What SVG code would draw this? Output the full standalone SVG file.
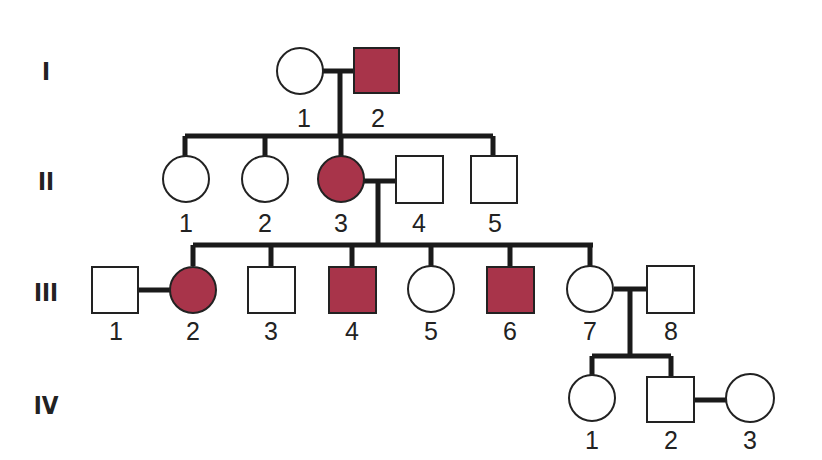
<svg xmlns="http://www.w3.org/2000/svg" width="822" height="460" viewBox="0 0 822 460">
<style>
.n{fill:#fff;stroke:#222;stroke-width:2}
.a{fill:#a8344a}
.l{stroke:#1a1a1a;stroke-width:5;fill:none}
.t{font-family:"Liberation Sans",Arial,sans-serif;font-size:25px;fill:#222;text-anchor:middle}
.g{font-family:"DejaVu Sans Condensed","Liberation Sans",sans-serif;font-weight:bold;font-size:24px;fill:#222;text-anchor:middle}
</style>
<rect width="822" height="460" fill="#fff"/>
<g id="gen-labels">
<text class="g" x="46" y="80">I</text>
<text class="g" x="46" y="190">II</text>
<text class="g" x="46" y="301">III</text>
<text class="g" x="46" y="414">IV</text>
</g>
<g id="connectors">
<path class="l" d="M323 71H354M340 71V136M185 136H493M185 136V156M265 136V156M341 136V156M493 136V156"/>
<path class="l" d="M364 181H396M378 181V245M193 245H593M193 245V266M271 245V266M352 245V266M431 245V266M510 245V266M590 245V266"/>
<path class="l" d="M138 290H170M614 289H647M630 289V356M592 356H671M592 356V375M671 356V377M694 400H726"/>
</g>
<g id="I-1"><circle class="n" cx="300" cy="71" r="23"/><text class="t" x="304" y="127">1</text></g>
<g id="I-2"><rect class="n a" x="354" y="48" width="45" height="45"/><text class="t" x="378" y="127">2</text></g>
<g id="II-1"><circle class="n" cx="186" cy="179" r="23"/><text class="t" x="186" y="232">1</text></g>
<g id="II-2"><circle class="n" cx="265" cy="179" r="23"/><text class="t" x="265" y="232">2</text></g>
<g id="II-3"><circle class="n a" cx="341" cy="179" r="23"/><text class="t" x="341" y="232">3</text></g>
<g id="II-4"><rect class="n" x="396" y="156" width="47" height="47"/><text class="t" x="419" y="232">4</text></g>
<g id="II-5"><rect class="n" x="471" y="156" width="46" height="47"/><text class="t" x="495" y="232">5</text></g>
<g id="III-1"><rect class="n" x="92" y="267" width="46" height="46"/><text class="t" x="116" y="340">1</text></g>
<g id="III-2"><circle class="n a" cx="193" cy="290" r="23"/><text class="t" x="193" y="340">2</text></g>
<g id="III-3"><rect class="n" x="248" y="267" width="47" height="46"/><text class="t" x="271" y="340">3</text></g>
<g id="III-4"><rect class="n a" x="329" y="267" width="47" height="46"/><text class="t" x="352" y="340">4</text></g>
<g id="III-5"><circle class="n" cx="431" cy="289" r="23"/><text class="t" x="431" y="340">5</text></g>
<g id="III-6"><rect class="n a" x="487" y="267" width="47" height="46"/><text class="t" x="510" y="340">6</text></g>
<g id="III-7"><circle class="n" cx="590" cy="289" r="23"/><text class="t" x="590" y="340">7</text></g>
<g id="III-8"><rect class="n" x="647" y="266" width="47" height="47"/><text class="t" x="671" y="340">8</text></g>
<g id="IV-1"><circle class="n" cx="592" cy="398" r="23"/><text class="t" x="592" y="449">1</text></g>
<g id="IV-2"><rect class="n" x="647" y="377" width="47" height="45"/><text class="t" x="671" y="449">2</text></g>
<g id="IV-3"><circle class="n" cx="750" cy="398" r="24"/><text class="t" x="750" y="449">3</text></g>
</svg>
